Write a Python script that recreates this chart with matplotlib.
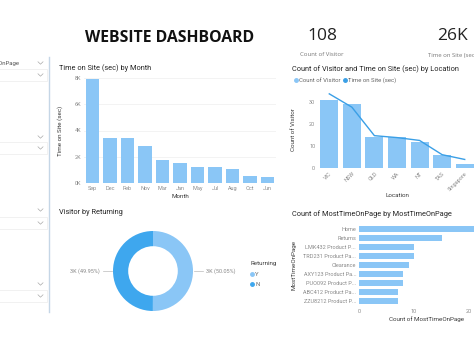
import matplotlib
matplotlib.use("Agg")
from matplotlib import pyplot as plt
from matplotlib.lines import Line2D
from matplotlib.patches import Rectangle
import numpy as np

# data
months = ['Sep', 'Dec', 'Feb', 'Nov', 'Mar', 'Jan', 'May', 'Jul', 'Aug', 'Oct', 'Jun']
month_time = [7950, 3450, 3450, 2810, 1750, 1490, 1240, 1230, 1080, 510, 470]

locations = ['VIC', 'NSW', 'QLD', 'WA', 'NT', 'TAS', 'Singapore']
loc_visitors = [31, 29, 14, 14, 12, 6, 2]
loc_time = [7800, 6400, 3400, 3200, 2900, 1400, 900]

returning = ['Y', 'N']
returning_time = [13013, 12987]
returning_labels = ['3K (50.05%)', '3K (49.95%)']

pages = ['Home', 'Returns', 'LMK432 Product P...', 'TRD231 Product Pa...', 'Clearance',
         'AXY123 Product Pa...', 'PUO092 Product P...', 'ABC412 Product Pa...', 'ZZU8212 Product P...']
page_counts = [22, 15, 10, 10, 9, 8, 8, 7, 7]

card_values = ['108', '26K']
card_names = ['Count of Visitor', 'Time on Site (sec)']

W, H = 474, 355
light = '#8AC6F6'
dark = '#3A9FE6'
tick_col = '#8a8a8a'
lab_col = '#3a3a3a'
plt.rcParams['font.family'] = ['Roboto', 'DejaVu Sans']

fig = plt.figure(figsize=(W / 100, H / 100), dpi=100)
fig.patch.set_facecolor('white')


def box(l, t, r, b):
    return [l / W, 1 - b / H, (r - l) / W, (b - t) / H]


def fx(x):
    return x / W


def fy(y):
    return 1 - y / H


def style(ax):
    for s in ax.spines.values():
        s.set_visible(False)
    ax.tick_params(length=0, labelsize=4, colors=tick_col, pad=2)


# header
fig.text(fx(170), fy(38), 'WEBSITE DASHBOARD', fontsize=11.3, fontweight='bold',
         family='Open Sans', ha='center', va='center', color='#111111')
for cx, v, n in zip([322, 452], card_values, card_names):
    fig.text(fx(cx), fy(36), v, fontsize=12.5, family='Open Sans', ha='center', va='center', color='#222222')
    fig.text(fx(cx), fy(55), n, fontsize=4.3, family='Open Sans', ha='center', va='center', color='#777777')

# left slicer strip (mostly cut off)
fig.text(fx(20), fy(63), 'MostTimeOnPage', fontsize=4.3, ha='right', va='center', color='#555555')
for yc in [63, 75, 137, 148, 210, 223, 284, 296]:
    fig.add_artist(Line2D([fx(38), fx(40.5), fx(43)], [fy(yc - 1.2), fy(yc + 1.2), fy(yc - 1.2)],
                          color='#aaaaaa', lw=0.5))
for yc in [75, 148, 223, 296]:
    fig.add_artist(Rectangle((fx(-2), fy(yc + 6)), fx(49), 12 / H, fill=False, ec='#ececec', lw=0.5))
fig.add_artist(Line2D([fx(49), fx(49)], [fy(57), fy(312)], color='#c5d6e6', lw=1.0))

# Time on Site (sec) by Month
ax1 = fig.add_axes(box(83.8, 78, 276.3, 183))
style(ax1)
x = np.arange(len(months))
ax1.bar(x, month_time, width=0.75, color=light, zorder=2)
ax1.set_xlim(-0.5, len(months) - 0.5)
ax1.set_ylim(0, 8000)
ax1.set_yticks([0, 2000, 4000, 6000, 8000])
ax1.set_yticklabels(['0K', '2K', '4K', '6K', '8K'])
ax1.set_xticks(x)
ax1.set_xticklabels(months)
ax1.grid(axis='y', color='#eeeeee', lw=0.5)
ax1.set_ylabel('Time on Site (sec)', fontsize=4.5, color=lab_col)
ax1.yaxis.set_label_coords(-0.11, 0.5)
ax1.set_xlabel('Month', fontsize=4.5, color=lab_col)
ax1.xaxis.set_label_coords(0.5, -0.1)
fig.text(fx(59), fy(68), 'Time on Site (sec) by Month', fontsize=5.3, va='center', color='#252525')

# Count of Visitor and Time on Site (sec) by Location
ax2 = fig.add_axes(box(318, 91, 476, 168))
style(ax2)
x = np.arange(len(locations))
ax2.bar(x, loc_visitors, width=0.8, color=light, zorder=2)
ax2.set_xlim(-0.5, len(locations) - 0.5)
ax2.set_ylim(0, 35)
ax2.set_yticks([0, 10, 20, 30])
ax2.set_xticks(x)
ax2.set_xticklabels(locations, rotation=45, ha='right', rotation_mode='anchor')
ax2.set_ylabel('Count of Visitor', fontsize=4.5, color=lab_col)
ax2.yaxis.set_label_coords(-0.14, 0.5)
ax2.set_xlabel('Location', fontsize=4.5, color=lab_col)
ax2.xaxis.set_label_coords((397 - 318) / 158, -0.33)
ax2b = ax2.twinx()
ax2b.plot(x, loc_time, color=dark, lw=1.0, zorder=3)
ax2b.set_ylim(0, 8100)
ax2b.set_yticks([])
for s in ax2b.spines.values():
    s.set_visible(False)
fig.text(fx(292), fy(69), 'Count of Visitor and Time on Site (sec) by Location', fontsize=5.3,
         va='center', color='#252525')
h2 = [Line2D([], [], ls='', marker='o', ms=2.5, color=light),
      Line2D([], [], ls='', marker='o', ms=2.5, color=dark)]
fig.legend(h2, ['Count of Visitor', 'Time on Site (sec)'], loc='center left',
           bbox_to_anchor=(fx(289), fy(80)), ncol=2, fontsize=4.3, frameon=False,
           handlelength=0.6, handletextpad=0.2, columnspacing=0.4, labelcolor='#666666')

# Visitor by Returning
ax3 = fig.add_axes(box(113, 231, 193, 311))
wedges, _ = ax3.pie(returning_time, colors=[light, '#3EA7EE'], startangle=90, counterclock=False,
                    radius=1, wedgeprops=dict(width=0.38, edgecolor='none'))
ax3.set_xlim(-1, 1)
ax3.set_ylim(-1, 1)
for w, lab in zip(wedges, returning_labels):
    a = np.deg2rad((w.theta1 + w.theta2) / 2)
    sx = np.sign(np.cos(a))
    y0 = np.sin(a)
    ax3.plot([sx * 1.03, sx * 1.25], [y0, y0], color='#bbbbbb', lw=0.5, clip_on=False)
    ax3.text(sx * 1.32, y0, lab, fontsize=4, color='#888888', va='center',
             ha='left' if sx > 0 else 'right', clip_on=False)
fig.text(fx(59), fy(213), 'Visitor by Returning', fontsize=5.3, va='center', color='#252525')
h3 = [Line2D([], [], ls='', marker='o', ms=2.5, color=c) for c in [light, '#3EA7EE']]
leg = fig.legend(h3, returning, title='Returning', loc='upper left',
                 bbox_to_anchor=(fx(245), fy(256)), fontsize=4.3, title_fontsize=4.5,
                 frameon=False, handlelength=0.6, handletextpad=0.2, labelspacing=0.9,
                 alignment='left', labelcolor='#666666')
leg.get_title().set_color(lab_col)

# Count of MostTimeOnPage by MostTimeOnPage
ax4 = fig.add_axes(box(359, 223.6, 480, 306.4))
style(ax4)
y = np.arange(len(pages))
ax4.barh(y, page_counts, height=0.67, color=light, zorder=2)
ax4.set_ylim(len(pages) - 0.4, -0.6)
ax4.set_xlim(0, 22)
ax4.set_xticks([0, 10, 20])
ax4.set_yticks(y)
ax4.set_yticklabels(pages)
ax4.set_xlabel('Count of MostTimeOnPage', fontsize=4.5, color=lab_col)
ax4.xaxis.set_label_coords((427 - 359) / 121, -0.12)
ax4.set_ylabel('MostTimeOnPage', fontsize=4.5, color=lab_col)
ax4.yaxis.set_label_coords(-0.52, 0.5)
fig.text(fx(292), fy(214), 'Count of MostTimeOnPage by MostTimeOnPage', fontsize=5.3,
         va='center', color='#252525')

fig.savefig('out.png', dpi=100)
